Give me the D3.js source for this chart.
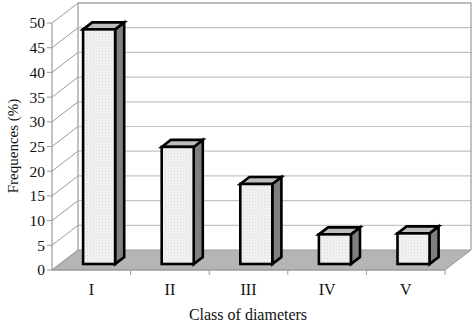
<!DOCTYPE html>
<html>
<head>
<meta charset="utf-8">
<script src="https://cdn.jsdelivr.net/npm/d3@7"></script>
<style>
  html, body { margin: 0; padding: 0; background: #fff; }
  svg { display: block; }
</style>
</head>
<body>
<svg id="chart" width="474" height="323"></svg>
<script>
// Frequency distribution by diameter class
const categories = ["I", "II", "III", "IV", "V"];
const frequencies = [47.5, 23.7, 16.2, 6.0, 6.2];
const yTicks = [0, 5, 10, 15, 20, 25, 30, 35, 40, 45, 50];

const svg = d3.select("#chart");
const font = "'Liberation Serif', 'Times New Roman', serif";

// Plot box (front plane) and depth offset of the back wall
const plotLeft = 52, plotRight = 445, plotBottom = 270, plotTop = 23;
const depthX = 26, depthY = -20;
const z0 = 0.3, z1 = 0.65; // bar depth span (fraction of full depth)

const x = d3.scaleBand().domain(categories).range([plotLeft, plotRight]);
const y = d3.scaleLinear().domain([0, 50]).range([plotBottom, plotTop]);

const wallStroke = "#9a9a9a";
const gridStroke = "#c4c4c4";

// Floor
svg.append("polygon")
  .attr("points", [[plotLeft, plotBottom], [plotRight, plotBottom], [plotRight + depthX, plotBottom + depthY], [plotLeft + depthX, plotBottom + depthY]].join(" "))
  .attr("fill", "#b5b5b5").attr("stroke", wallStroke).attr("stroke-width", 1);

// Back wall gridlines
svg.append("g").selectAll("line").data(yTicks.filter(t => t > 0)).join("line")
  .attr("x1", plotLeft + depthX).attr("x2", plotRight + depthX)
  .attr("y1", d => y(d) + depthY).attr("y2", d => y(d) + depthY)
  .attr("stroke", gridStroke).attr("stroke-width", 1.2);

// Side wall gridlines
svg.append("g").selectAll("line").data(yTicks).join("line")
  .attr("x1", plotLeft).attr("x2", plotLeft + depthX)
  .attr("y1", d => y(d)).attr("y2", d => y(d) + depthY)
  .attr("stroke", wallStroke).attr("stroke-width", 1);

// Back wall frame
svg.append("path")
  .attr("d", `M${plotLeft + depthX},${plotBottom + depthY}V${plotTop + depthY}H${plotRight + depthX}V${plotBottom + depthY}`)
  .attr("fill", "none").attr("stroke", wallStroke).attr("stroke-width", 1.2);

// Front value axis
svg.append("line")
  .attr("x1", plotLeft).attr("x2", plotLeft).attr("y1", plotTop).attr("y2", plotBottom)
  .attr("stroke", wallStroke).attr("stroke-width", 1.2);
svg.append("g").selectAll("line").data(yTicks).join("line")
  .attr("x1", plotLeft - 5).attr("x2", plotLeft)
  .attr("y1", d => y(d)).attr("y2", d => y(d))
  .attr("stroke", wallStroke).attr("stroke-width", 1);
svg.append("g").selectAll("text").data(yTicks).join("text")
  .attr("x", plotLeft - 7).attr("y", d => y(d)).attr("dy", "0.35em")
  .attr("text-anchor", "end")
  .attr("font-family", font).attr("font-size", 15.5).attr("fill", "#111")
  .text(d => d);

// Category axis ticks and labels
svg.append("line")
  .attr("x1", plotLeft).attr("x2", plotRight).attr("y1", plotBottom).attr("y2", plotBottom)
  .attr("stroke", wallStroke).attr("stroke-width", 1);
svg.append("g").selectAll("line").data(categories).join("line")
  .attr("x1", d => x(d) + x.bandwidth()).attr("x2", d => x(d) + x.bandwidth())
  .attr("y1", plotBottom).attr("y2", plotBottom + 5)
  .attr("stroke", wallStroke).attr("stroke-width", 1);
svg.append("g").selectAll("text").data(categories).join("text")
  .attr("x", d => x(d) + x.bandwidth() / 2).attr("y", 295)
  .attr("text-anchor", "middle")
  .attr("font-family", font).attr("font-size", 16).attr("fill", "#111")
  .text(d => d);

// Axis titles
svg.append("text")
  .attr("x", 248).attr("y", 320).attr("text-anchor", "middle")
  .attr("font-family", font).attr("font-size", 16).attr("fill", "#111")
  .text("Class of diameters");
svg.append("text")
  .attr("transform", "translate(18,146) rotate(-90)")
  .attr("text-anchor", "middle")
  .attr("font-family", font).attr("font-size", 15).attr("fill", "#111")
  .text("Frequences (%)");

// Stipple pattern for bar fronts
const defs = svg.append("defs");
const pat = defs.append("pattern").attr("id", "stipple")
  .attr("width", 3).attr("height", 3).attr("patternUnits", "userSpaceOnUse");
pat.append("rect").attr("width", 3).attr("height", 3).attr("fill", "#f4f4f4");
pat.append("rect").attr("x", 0).attr("y", 0).attr("width", 1).attr("height", 1).attr("fill", "#d4d4d4");
pat.append("rect").attr("x", 1.5).attr("y", 1.5).attr("width", 1).attr("height", 1).attr("fill", "#dedede");

// 3D bars
const faceW = 32;
const bx0 = z0 * depthX, by0 = z0 * depthY;
const ddx = (z1 - z0) * depthX, ddy = (z1 - z0) * depthY;
const bars = svg.append("g").selectAll("g").data(categories.map((c, i) => ({ c, v: frequencies[i] }))).join("g");

bars.each(function (d) {
  const g = d3.select(this);
  const x0 = x(d.c) + (x.bandwidth() - faceW) / 2 + bx0;
  const x1 = x0 + faceW;
  const yb = y(0) + by0;
  const yt = y(d.v) + by0;
  const sw = 2.6;
  // side face
  g.append("polygon")
    .attr("points", [[x1, yt], [x1 + ddx, yt + ddy], [x1 + ddx, yb + ddy], [x1, yb]].join(" "))
    .attr("fill", "#7f7f7f").attr("stroke", "#000").attr("stroke-width", sw);
  // top face
  g.append("polygon")
    .attr("points", [[x0, yt], [x0 + ddx, yt + ddy], [x1 + ddx, yt + ddy], [x1, yt]].join(" "))
    .attr("fill", "#bdbdbd").attr("stroke", "#000").attr("stroke-width", sw);
  // front face
  g.append("rect")
    .attr("x", x0).attr("y", yt).attr("width", faceW).attr("height", yb - yt)
    .attr("fill", "url(#stipple)").attr("stroke", "#000").attr("stroke-width", sw);
});
</script>
</body>
</html>
